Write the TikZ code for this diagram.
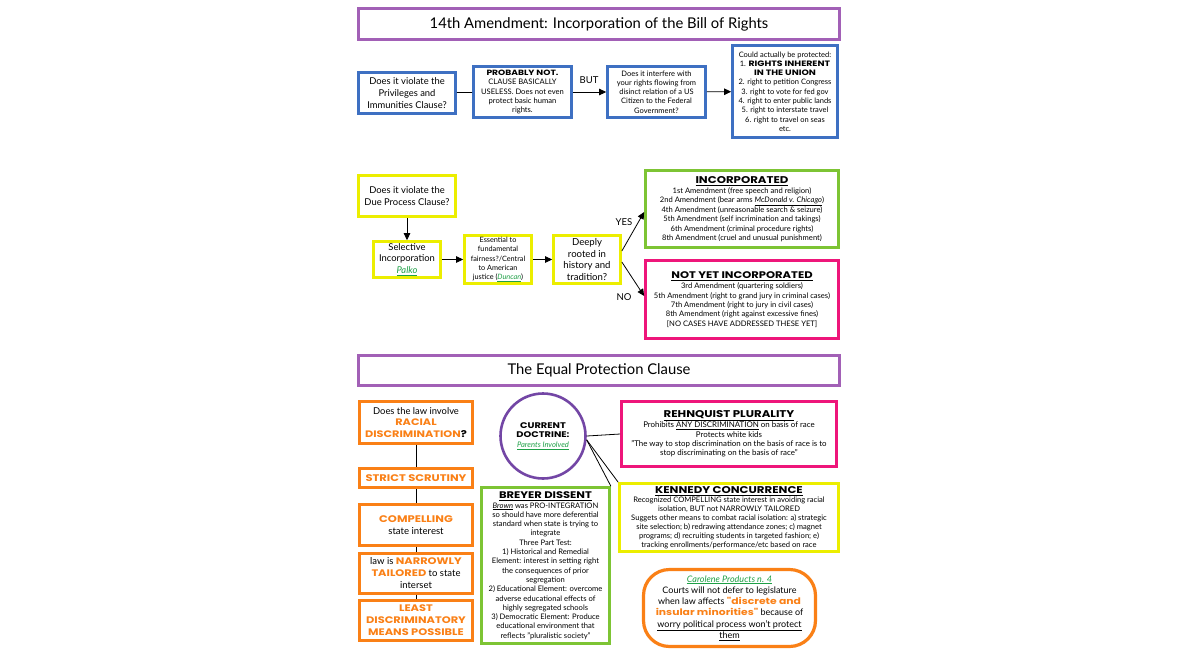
\documentclass[tikz,border=0pt]{standalone}
\usepackage{fontspec}
\setmainfont{Lato}
\newfontfamily\hdrfont{Poppins}[FakeStretch=1.2]
\usetikzlibrary{arrows.meta,shadows,calc}
\definecolor{ttlpurple}{RGB}{162,96,182}
\definecolor{bblue}{RGB}{62,112,194}
\definecolor{byellow}{RGB}{236,238,0}
\definecolor{bgreen}{RGB}{125,196,52}
\definecolor{bpink}{RGB}{238,22,122}
\definecolor{borange}{RGB}{250,128,22}
\definecolor{lgreen}{RGB}{30,160,70}
\definecolor{cpurple}{RGB}{115,70,165}
\newcommand{\hd}[1]{{\hdrfont\bfseries #1}}
\newcommand{\fs}[2]{\fontsize{#1}{#2}\selectfont}
\newcommand{\og}[1]{\textcolor{borange}{\hd{#1}}}
\newcommand{\lk}[1]{\textcolor{lgreen}{\underline{\textit{#1}}}}
\tikzset{
  box/.style={draw, line width=3.2pt, fill=white, align=center, inner sep=0pt,
    drop shadow={shadow xshift=1.2pt, shadow yshift=-1.2pt, opacity=0.18}},
  ttl/.style={box, draw=ttlpurple},
  bl/.style={box, draw=bblue},
  yl/.style={box, draw=byellow},
  gr/.style={box, draw=bgreen},
  pk/.style={box, draw=bpink},
  orb/.style={box, draw=borange},
  arr/.style={-{Triangle[length=7pt,width=6.5pt]}, line width=0.8pt},
  ln/.style={line width=0.8pt},
  lbl/.style={inner sep=0pt, font=\fs{9.5}{11}}
}
\begin{document}
\begin{tikzpicture}[x=1pt,y=-1pt]
\useasboundingbox[fill=white] (0,0) rectangle (1200,654);
% ---------- Section 1
\node[ttl, minimum width=480.5pt, minimum height=30.5pt, font=\fs{14.8}{16}] (t1) at (599,24) {\raisebox{-1.2pt}{14th Amendment: Incorporation of the Bill of Rights}};
\node[bl, minimum width=96.5pt, minimum height=40.5pt, font=\fs{9.4}{12}] (a) at (407,93) {Does it violate the\\Privileges and\\Immunities Clause?};
\node[bl, minimum width=97.5pt, minimum height=50.5pt, font=\fs{7.6}{9.4}] (b) at (522.5,92) {\hd{PROBABLY NOT.}\\CLAUSE BASICALLY\\USELESS. Does not even\\protect basic human\\rights.};
\node[bl, minimum width=97.5pt, minimum height=50.5pt, font=\fs{7.5}{9.2}] (c) at (656.5,92) {Does it interfere with\\your rights flowing from\\disinct relation of a US\\Citizen to the Federal\\Government?};
\node[bl, minimum width=104.5pt, minimum height=91.5pt, font=\fs{7.5}{9.3}] (d) at (785,91.5) {Could actually be protected:\\1. {\fs{7.8}{9.3}\hd{RIGHTS INHERENT}}\\{\fs{7.8}{9.3}\hd{IN THE UNION}}\\2. right to petition Congress\\3. right to vote for fed gov\\4. right to enter public lands\\5. right to interstate travel\\6. right to travel on seas\\etc.};
\node[lbl] (but) at (589,80) {BUT};
\draw[ln] (a) -- (b);
\draw[arr] (b) -- (c);
\draw[arr] (c) -- (d);
% ---------- Section 2
\node[yl, minimum width=96.5pt, minimum height=40.5pt, font=\fs{9.4}{12}] (e) at (407,196) {Does it violate the\\Due Process Clause?};
\node[yl, minimum width=66.5pt, minimum height=35.5pt, font=\fs{9.4}{11.8}] (f) at (407,259.5) {Selective\\Incorporation\\\lk{Palko}};
\node[yl, minimum width=66.5pt, minimum height=47.5pt, font=\fs{7.3}{9.4}] (g) at (498,259.5) {Essential to\\fundamental\\fairness?/Central\\to American\\justice (\lk{Duncan})};
\node[yl, minimum width=66.5pt, minimum height=47.5pt, font=\fs{9.6}{11.5}] (h) at (587,259.5) {Deeply\\rooted in\\history and\\tradition?};
\node[gr, minimum width=192.5pt, minimum height=76.5pt, font=\fs{7.6}{9.4}] (inc) at (742,209) {{\fs{9.8}{10.5}\hd{\underline{INCORPORATED}}}\\[0.8pt]1st Amendment (free speech and religion)\\2nd Amendment (bear arms \underline{\textit{McDonald v. Chicago}})\\4th Amendment (unreasonable search \& seizure)\\5th Amendment (self incrimination and takings)\\6th Amendment (criminal procedure rights)\\8th Amendment (cruel and unusual punishment)};
\node[pk, minimum width=192.5pt, minimum height=77.5pt, font=\fs{7.6}{9.4}] (niy) at (742,299.5) {{\fs{9.6}{10.5}\hd{\underline{NOT YET INCORPORATED}}}\\[0.8pt]3rd Amendment (quartering soldiers)\\5th Amendment (right to grand jury in criminal cases)\\7th Amendment (right to jury in civil cases)\\8th Amendment (right against excessive fines)\\{[}NO CASES HAVE ADDRESSED THESE YET{]}};
\node[lbl] (yes) at (624,222) {YES};
\node[lbl] (no) at (624,297) {NO};
\draw[arr] (e) -- (f);
\draw[arr] (f) -- (g);
\draw[arr] (g) -- (h);
\draw[arr] ($(h.east)+(0,-8.5)$) -- ($(inc.west)+(0,3)$);
\draw[arr] ($(h.east)+(0,2.5)$) -- ($(niy.west)+(0,-3.5)$);
% ---------- Section 3
\node[ttl, minimum width=480.5pt, minimum height=29.5pt, font=\fs{14.8}{16}] (t2) at (599,370.5) {\raisebox{-1pt}{The Equal Protection Clause}};
\node[orb, minimum width=112.5pt, minimum height=41.5pt, font=\fs{9.4}{11.5}] (k) at (416,422.5) {Does the law involve\\\og{RACIAL}\\\og{DISCRIMINATION}\hd{?}};
\node[orb, minimum width=112.5pt, minimum height=18.5pt, font=\fs{9.6}{11.5}] (l) at (416,478) {\og{STRICT SCRUTINY}};
\node[orb, minimum width=112.5pt, minimum height=40.5pt, font=\fs{9.6}{12.5}] (m) at (416,525) {\og{COMPELLING}\\state interest};
\node[orb, minimum width=112.5pt, minimum height=39.5pt, font=\fs{9.5}{12}] (n) at (416,573.5) {law is \og{NARROWLY}\\\og{TAILORED} to state\\interset};
\node[orb, minimum width=112.5pt, minimum height=39.5pt, font=\fs{9.5}{12}] (o) at (416,620.5) {\og{LEAST}\\\og{DISCRIMINATORY}\\\og{MEANS POSSIBLE}};
\draw[ln] (k) -- (l);
\draw[ln] (l) -- (m);
\draw[ln] (m) -- (n);
\draw[ln] (n) -- (o);
\node[circle, draw=cpurple, line width=2.6pt, fill=white, minimum size=85pt, inner sep=0pt, align=center, font=\fs{8.2}{9.6}] (cd) at (543,436) {\hd{CURRENT}\\\hd{DOCTRINE:}\\{\fs{7.6}{9}\lk{Parents Involved}}};
\node[pk, minimum width=214.5pt, minimum height=64.5pt, font=\fs{7.9}{9.3}] (reh) at (729,434) {{\fs{9.8}{11}\hd{\underline{REHNQUIST PLURALITY}}}\\[0.8pt]Prohibits \underline{ANY DISCRIMINATION} on basis of race\\Protects white kids\\"The way to stop discrimination on the basis of race is to\\stop discriminating on the basis of race"};
\node[gr, minimum width=127.5pt, minimum height=155.5pt, font=\fs{7.6}{9.3}] (bre) at (545.5,565.5) {{\fs{9.6}{10.5}\hd{\underline{BREYER DISSENT}}}\\[0.5pt]\underline{\textit{Brown}} was PRO-INTEGRATION\\so should have more deferential\\standard when state is trying to\\integrate\\Three Part Test:\\1) Historical and Remedial\\Element: interest in setting right\\the consequences of prior\\segregation\\2) Educational Element: overcome\\adverse educational effects of\\highly segregated schools\\3) Democratic Element: Produce\\educational environment that\\reflects "pluralistic society"};
\node[yl, minimum width=218.5pt, minimum height=67.5pt, font=\fs{7.6}{8.9}] (ken) at (729,517.5) {{\fs{9.8}{11}\hd{\underline{KENNEDY CONCURRENCE}}}\\[0.5pt]Recognized COMPELLING state interest in avoiding racial\\isolation, BUT not NARROWLY TAILORED\\Suggets other means to combat racial isolation: a) strategic\\site selection; b) redrawing attendance zones; c) magnet\\programs; d) recruiting students in targeted fashion; e)\\tracking enrollments/performance/etc based on race};
\node[orb, rounded corners=26pt, minimum width=172pt, minimum height=77pt, font=\fs{9}{11.3}] (car) at (729.5,608) {\lk{Carolene Products n. 4}\\Courts will not defer to legislature\\when law affects \og{"discrete and}\\\og{insular minorities"} because of\\\underline{worry political process won't protect}\\\underline{them}};
\draw[ln] (cd.east) -- (reh.west);
\draw[ln] (cd.355) -- (bre.north east);
\draw[ln] (cd.355) -- (ken.north west);
\end{tikzpicture}
\end{document}
